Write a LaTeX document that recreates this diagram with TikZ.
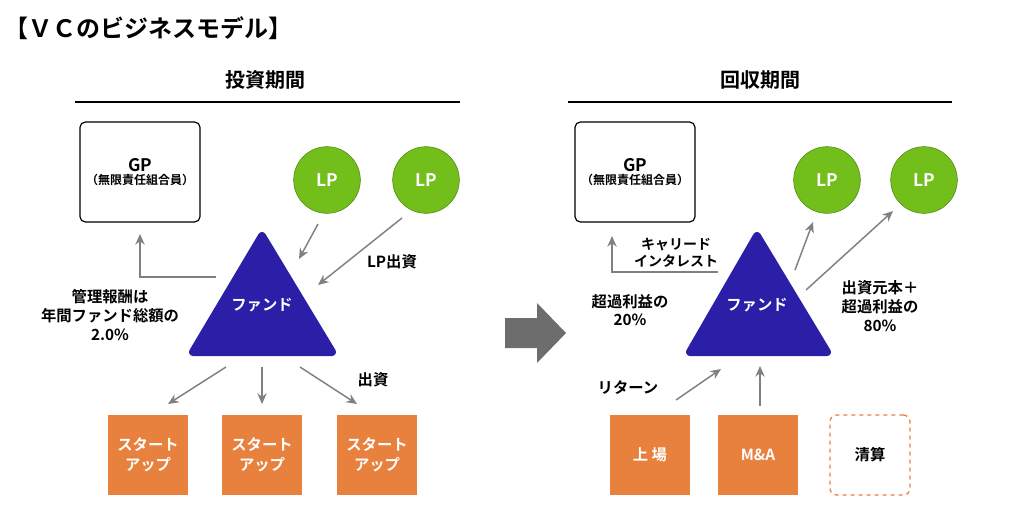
\documentclass[tikz,border=0pt]{standalone}
\usepackage{fontspec}
\setmainfont{Noto Sans CJK JP}[BoldFont={* Bold}]
\usetikzlibrary{arrows.meta}
\definecolor{tri}{HTML}{2B1FA8}
\definecolor{org}{HTML}{E8803E}
\definecolor{grn}{HTML}{72BE1A}
\definecolor{arr}{HTML}{808080}
\begin{document}
\begin{tikzpicture}[x=0.75pt,y=-0.75pt,
  lbl/.style={font=\bfseries\fontsize{11.5}{14}\selectfont,align=center,text=black},
  gp/.style={draw=black,line width=0.9pt,rounded corners=4pt,minimum width=90pt,minimum height=75pt,fill=white},
  lp/.style={circle,fill=grn,draw=grn!70!black,minimum size=50pt,text=white,font=\bfseries\fontsize{13}{15}\selectfont,inner sep=0pt},
  box/.style={fill=org,minimum width=60pt,minimum height=60pt,text=white,font=\bfseries\fontsize{11.5}{15}\selectfont,align=center,inner sep=0pt},
  ar/.style={draw=arr,line width=1.1pt,-{Stealth[length=8pt,width=7pt]}},
  head/.style={font=\bfseries\fontsize{15}{18}\selectfont}]
\useasboundingbox (0,0) rectangle (1024,518);
\node[anchor=west,font=\bfseries\fontsize{18}{22}\selectfont] (title) at (0,28) {【ＶＣのビジネスモデル】};
\node[head] (h1) at (265,80) {投資期間};
\node[head] (h2) at (760,80) {回収期間};
\coordinate (l1a) at (75,102); \coordinate (l1b) at (460,102);
\coordinate (l2a) at (568,102); \coordinate (l2b) at (952,102);
\draw[line width=0.8pt] (l1a) -- (l1b);
\draw[line width=0.8pt] (l2a) -- (l2b);
% left
\node[gp,align=center] (gp1) at (140,172) {\bfseries\fontsize{13}{15}\selectfont GP\\[-2pt]\bfseries\fontsize{9}{11}\selectfont （無限責任組合員）};
\node[lp] (lp1) at (327,180) {LP};
\node[lp] (lp2) at (426,180) {LP};
\draw[fill=tri,draw=tri,line width=6pt,line join=round] (262,236) -- (332,352) -- (193,352) -- cycle;
\node[text=white,font=\bfseries\fontsize{11.5}{14}\selectfont] (f1) at (262,305) {ファンド};
\coordinate (t1l) at (216,277); \coordinate (gpa) at (140,234);
\draw[ar] (t1l) -| (gpa);
\coordinate (a1s) at (318,224); \coordinate (a1e) at (299,259);
\coordinate (a2s) at (402,218); \coordinate (a2e) at (318,285);
\draw[ar] (a1s) -- (a1e);
\draw[ar] (a2s) -- (a2e);
\node[lbl] (lpi) at (392,262) {LP出資};
\node[lbl] (mg) at (110,315) {管理報酬は\\年間ファンド総額の\\2.0\%};
\node[box] (s1) at (148,455) {スタート\\アップ};
\node[box] (s2) at (262,455) {スタート\\アップ};
\node[box] (s3) at (377,455) {スタート\\アップ};
\coordinate (d1) at (226,367); \coordinate (d2) at (262,367); \coordinate (d3) at (300,367);
\draw[ar] (d1) -- (168,404);
\draw[ar] (d2) -- (262,404);
\draw[ar] (d3) -- (357,404);
\node[lbl] (inv) at (373,380) {出資};
% middle arrow
\fill[arr!85!black] (505,318) -- (537,318) -- (537,303) -- (566,333) -- (537,363) -- (537,348) -- (505,348) -- cycle;
% right
\node[gp,align=center] (gp2) at (635,172) {\bfseries\fontsize{13}{15}\selectfont GP\\[-2pt]\bfseries\fontsize{9}{11}\selectfont （無限責任組合員）};
\node[lp] (lp3) at (827,180) {LP};
\node[lp] (lp4) at (924,180) {LP};
\draw[fill=tri,draw=tri,line width=6pt,line join=round] (757,236) -- (827,352) -- (690,352) -- cycle;
\node[text=white,font=\bfseries\fontsize{11.5}{14}\selectfont] (f2) at (757,305) {ファンド};
\coordinate (t2l) at (718,272); \coordinate (gpb) at (612,236);
\draw[ar] (t2l) -| (gpb);
\node[lbl,font=\bfseries\fontsize{10.5}{13}\selectfont] (ci) at (676,253) {キャリード\\インタレスト};
\node[lbl] (c20) at (630,310) {超過利益の\\20\%};
\coordinate (r1s) at (795,270); \coordinate (r1e) at (813,222);
\coordinate (r2s) at (806,290); \coordinate (r2e) at (893,211);
\draw[ar] (r1s) -- (r1e);
\draw[ar] (r2s) -- (r2e);
\node[lbl] (c80) at (880,306) {出資元本＋\\超過利益の\\80\%};
\node[box] (ipo) at (650,455) {上\ 場};
\node[box] (ma) at (758,455) {M\&A};
\node[box,fill=white,draw=org,dashed,line width=1pt,rounded corners=5pt,text=black] (liq) at (870,455) {清算};
\coordinate (u1s) at (676,400); \coordinate (u1e) at (721,369);
\coordinate (u2s) at (760,406); \coordinate (u2e) at (760,366);
\draw[ar] (u1s) -- (u1e);
\draw[ar] (u2s) -- (u2e);
\node[lbl] (ret) at (628,388) {リターン};
\end{tikzpicture}
\end{document}
